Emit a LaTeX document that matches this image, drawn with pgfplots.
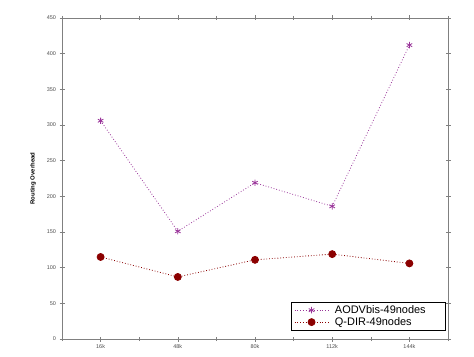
\documentclass[border=0pt]{standalone}
\usepackage{pgfplots}
\pgfplotsset{compat=1.18}
\usepackage{fontspec}
\setmainfont{Liberation Sans}
\definecolor{aodv}{HTML}{993399}
\definecolor{qdir}{HTML}{8B0000}
\definecolor{axgray}{HTML}{808080}
\begin{document}
\begin{tikzpicture}[x=1bp,y=1bp]
\useasboundingbox (0,0) rectangle (474,356);
\begin{axis}[
  at={(62bp,17bp)}, anchor=south west,
  scale only axis, width=386bp, height=321bp,
  xmin=0, xmax=160, ymin=0, ymax=450,
  xtick={16,48,80,112,144},
  xticklabels={16k,48k,80k,112k,144k},
  minor xtick={0,32,64,96,128,160},
  ytick={0,50,...,450},
  tick align=center,
  major tick length=5bp, minor tick length=4bp,
  tick style={axgray, thin},
  axis line style={axgray, thin},
  tick label style={font=\fontsize{5.5}{6}\selectfont, text=black!70},
  /pgf/number format/assume math mode=true,
  ylabel={\textbf{Routing Overhead}},
  ylabel style={font=\fontsize{6}{7}\selectfont, at={(axis description cs:-0.075,0.5)}, anchor=center},
  legend style={at={(0.992,0.028)}, anchor=south east, font=\fontsize{11}{12}\selectfont, draw=black, thin, inner xsep=3bp, inner ysep=1bp, row sep=-1.5bp,
    /tikz/every odd column/.append style={column sep=4bp}},
  legend cell align=left,
  legend image code/.code={\draw[mark repeat=2,mark phase=2] plot coordinates {(0bp,0bp) (17bp,0bp) (34bp,0bp)};},
]
\addplot[aodv, dotted, thick, mark=asterisk, mark size=3.2bp, mark options={solid, thick}] coordinates {
  (16,306) (48,151) (80,219) (112,186) (144,412)};
\addlegendentry{AODVbis-49nodes\hspace*{14bp}}
\addplot[qdir, dotted, thick, mark=*, mark size=3.5bp, mark options={solid}] coordinates {
  (16,115) (48,87) (80,111) (112,119) (144,106)};
\addlegendentry{Q-DIR-49nodes}
\end{axis}
\end{tikzpicture}
\end{document}
